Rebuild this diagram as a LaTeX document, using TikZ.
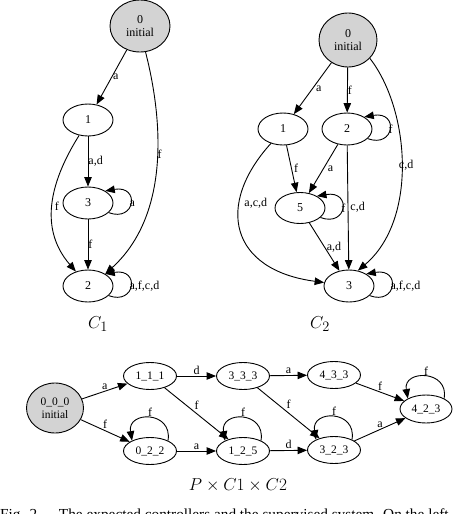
\documentclass[tikz,border=0pt]{standalone}
\usepackage{fontspec}
\setmainfont{Liberation Serif}
\usetikzlibrary{shapes.geometric,arrows.meta}
\definecolor{nodegray}{RGB}{211,211,211}
\begin{document}
\begin{tikzpicture}[x=1pt,y=1pt,
  st/.style={ellipse,draw,line width=0.9pt,inner sep=0pt,align=center,
    font=\fontsize{12}{13}\selectfont},
  cst/.style={st,minimum width=50pt,minimum height=32pt},
  pst/.style={st,minimum width=53pt,minimum height=27pt,font=\fontsize{11.5}{12}\selectfont},
  init/.style={fill=nodegray},
  edge/.style={line width=0.9pt,-{Triangle[length=9.5pt,width=7.5pt]}},
  lbl/.style={inner sep=1pt,font=\fontsize{12}{13}\selectfont},
  captxt/.style={inner sep=0pt,font=\fontsize{19}{22}\selectfont},
]
\useasboundingbox (0,0) rectangle (474,-514);
\clip (0,0) rectangle (474,-514);

% ---------- C1 ----------
\node[st,init,minimum width=60pt,minimum height=52pt] (a0) at (140,-26) {0\\initial};
\node[cst] (a1) at (88,-120) {1};
\node[cst] (a3) at (88,-203) {3};
\node[cst] (a2) at (88,-286) {2};

\draw[edge] (a0) -- node[lbl,right,pos=0.5]{a} (a1);
\draw[edge] (a1) -- node[lbl,anchor=west,pos=0.5,xshift=-1pt]{a,d} (a3);
\draw[edge] (a3) -- node[lbl,anchor=west,pos=0.5,xshift=-1pt]{f} (a2);
\draw[edge] (a1.240) .. controls (48,-185) and (40,-230) .. node[lbl,anchor=west,pos=0.5,xshift=1pt]{f} (a2.130);
\draw[edge] (a0.-78) .. controls (163,-120) and (170,-215) .. node[lbl,anchor=west,pos=0.45,xshift=-1pt]{f} (a2.35);
\draw[edge] (a3.-25) .. controls +(27,-10) and +(35,6) .. node[lbl,anchor=west,pos=0.5,xshift=-2pt]{a} (a3.35);
\draw[edge] (a2.-25) .. controls +(27,-10) and +(35,6) .. node[lbl,anchor=west,pos=0.5,xshift=-2pt]{a,f,c,d} (a2.35);

\node[captxt,anchor=base] (capa) at (98,-328) {$C_1$};

% ---------- C2 ----------
\node[st,init,minimum width=58pt,minimum height=54pt] (b0) at (348,-40) {0\\initial};
\node[cst] (b1) at (283,-129) {1};
\node[cst] (b2) at (347,-129) {2};
\node[cst,minimum height=31pt] (b5) at (300,-208) {5};
\node[cst] (b3) at (349,-286) {3};

\draw[edge] (b0) -- node[lbl,right,pos=0.5,xshift=2pt]{a} (b1);
\draw[edge] (b0) -- node[lbl,anchor=west,pos=0.5,xshift=-1pt]{f} (b2);
\draw[edge] (b0.-40) .. controls (410,-110) and (418,-220) .. node[lbl,anchor=west,pos=0.5,xshift=-4pt]{c,d} (b3.60);
\draw[edge] (b2.-25) .. controls +(27,-10) and +(35,6) .. node[lbl,anchor=west,pos=0.5,xshift=-2pt]{f} (b2.35);
\draw[edge] (b1) -- node[lbl,anchor=west,pos=0.5,xshift=1pt]{f} (b5);
\draw[edge] (b2) -- node[lbl,anchor=west,pos=0.5,xshift=3pt]{a} (b5);
\draw[edge] (b2) -- node[lbl,anchor=west,pos=0.5,xshift=1pt]{c,d} (b3);
\draw[edge] (b5.-25) .. controls +(27,-10) and +(35,6) .. node[lbl,anchor=west,pos=0.5,xshift=-2pt]{f} (b5.35);
\draw[edge] (b1.-130) .. controls (215,-205) and (230,-270) .. node[lbl,anchor=west,pos=0.33,xshift=4pt]{a,c,d} (b3.172);
\draw[edge] (b5) -- node[lbl,anchor=west,pos=0.5,xshift=1pt]{a,d} (b3);
\draw[edge] (b3.-25) .. controls +(27,-10) and +(35,6) .. node[lbl,anchor=west,pos=0.5,xshift=-2pt]{a,f,c,d} (b3.35);

\node[captxt,anchor=base] (capb) at (320,-328) {$C_2$};

% ---------- P x C1 x C2 ----------
\node[st,init,minimum width=57pt,minimum height=50pt,font=\fontsize{11.5}{12.5}\selectfont] (p000) at (55,-408) {0\_0\_0\\initial};
\node[pst] (p111) at (150,-376) {1\_1\_1};
\node[pst] (p022) at (150,-451) {0\_2\_2};
\node[pst] (p333) at (243,-376) {3\_3\_3};
\node[pst] (p125) at (243,-451) {1\_2\_5};
\node[pst] (p433) at (334,-375) {4\_3\_3};
\node[pst] (p323) at (334,-450) {3\_2\_3};
\node[pst,minimum width=52pt,minimum height=28pt] (p423) at (426,-409) {4\_2\_3};

\draw[edge] (p000) -- node[lbl,above,pos=0.5]{a} (p111);
\draw[edge] (p000) -- node[lbl,above,pos=0.5,yshift=1pt]{f} (p022);
\draw[edge] (p022.30) .. controls +(5,30) and +(-5,30) .. node[lbl,above,pos=0.5]{f} (p022.150);
\draw[edge] (p111) -- node[lbl,above,pos=0.5]{d} (p333);
\draw[edge] (p111) -- node[lbl,above,pos=0.5,yshift=3pt]{f} (p125);
\draw[edge] (p022) -- node[lbl,above,pos=0.5]{a} (p125);
\draw[edge] (p125.30) .. controls +(5,30) and +(-5,30) .. node[lbl,above,pos=0.5]{f} (p125.150);
\draw[edge] (p333) -- node[lbl,above,pos=0.5]{a} (p433);
\draw[edge] (p333) -- node[lbl,above,pos=0.5,yshift=3pt]{f} (p323);
\draw[edge] (p125) -- node[lbl,above,pos=0.5]{d} (p323);
\draw[edge] (p323.30) .. controls +(5,30) and +(-5,30) .. node[lbl,above,pos=0.5]{f} (p323.150);
\draw[edge] (p433) -- node[lbl,above,pos=0.5]{f} (p423);
\draw[edge] (p323) -- node[lbl,above,pos=0.5]{a} (p423);
\draw[edge] (p423.30) .. controls +(5,29) and +(-5,29) .. node[lbl,above,pos=0.5]{f} (p423.150);

\node[captxt,anchor=base] (capp) at (238,-490) {$P\times C1\times C2$};

% ---------- figure caption (cut off at the bottom edge, as in the reference) ----------
\node[inner sep=0pt,anchor=base west,font=\fontsize{15.3}{17}\selectfont] (fig) at (0,-519) {Fig. 2.\hspace{18pt}The expected controllers and the supervised system. On the left};
\end{tikzpicture}
\end{document}
